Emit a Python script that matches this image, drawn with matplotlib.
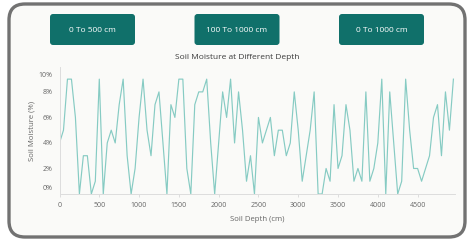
import numpy as np
import matplotlib
matplotlib.use("Agg")
import matplotlib.pyplot as plt
from matplotlib.patches import FancyBboxPatch

plt.rcParams["font.family"] = ["Open Sans", "DejaVu Sans"]

# depth every 50 cm, moisture in %
depth_cm = list(range(0, 5000, 50))
moisture = [4, 5, 9, 9, 6, 0, 3, 3, 0, 1,
            9, 0, 4, 5, 4, 7, 9, 3, 0, 2,
            6, 9, 5, 3, 7, 8, 4, 0, 7, 6,
            9, 9, 2, 0, 7, 8, 8, 9, 4, 0,
            4, 8, 6, 9, 4, 8, 5, 1, 3, 0,
            6, 4, 5, 6, 3, 5, 5, 3, 4, 8,
            5, 1, 3, 5, 8, 0, 0, 2, 1, 7,
            2, 3, 7, 5, 1, 2, 1, 8, 1, 2,
            4, 9, 0, 8, 4, 0, 1, 9, 5, 2,
            2, 1, 2, 3, 6, 7, 3, 8, 5, 9]

buttons = ["0 To 500 cm", "100 To 1000 cm", "0 To 1000 cm"]
x_ticks = [0, 500, 1000, 1500, 2000, 2500, 3000, 3500, 4000, 4500]
y_tick_pos = [0.48, 2, 4, 6, 8, 9.37]
y_tick_labels = ["0%", "2%", "4%", "6%", "8%", "10%"]

W, H = 474, 244
fig = plt.figure(figsize=(W / 100, H / 100), dpi=100, facecolor="#ffffff")

# page layer in pixel coordinates
bg = fig.add_axes([0, 0, 1, 1])
bg.set_xlim(0, W)
bg.set_ylim(H, 0)
bg.axis("off")
bg.add_patch(FancyBboxPatch((9, 4), 456, 233,
                            boxstyle="round,pad=0,rounding_size=16",
                            fc="#fafaf8", ec="#727272", lw=2.4))
for i, label in enumerate(buttons):
    x0 = 50 + i * 144.5
    bg.add_patch(FancyBboxPatch((x0, 14), 85, 31,
                                boxstyle="round,pad=0,rounding_size=3",
                                fc="#10706a", ec="none"))
    bg.text(x0 + 42.5, 30, label, color="white", fontsize=6.0,
            ha="center", va="center")

fig.text(0.5, 1 - 58 / H, "Soil Moisture at Different Depth",
         ha="center", va="center", fontsize=6.0, color="#3a3a3a")

ax = fig.add_axes([59.5 / W, 50 / H, 395.5 / W, 127 / H])
ax.patch.set_alpha(0)
ax.plot(depth_cm, moisture, color="#86cbc3", lw=0.85)
ax.set_xlim(0, 4970)
ax.set_ylim(0, 9.95)

ax.set_xticks(x_ticks)
ax.set_xticklabels([str(t) for t in x_ticks])
ax.set_yticks(y_tick_pos)
ax.set_yticklabels(y_tick_labels)
ax.tick_params(axis="x", length=2, width=0.6, color="#d8d8d8",
               labelsize=5.0, labelcolor="#666666", pad=4)
ax.tick_params(axis="y", length=0, labelsize=5.0, labelcolor="#666666",
               pad=5)
for s in ("top", "right"):
    ax.spines[s].set_visible(False)
for s in ("left", "bottom"):
    ax.spines[s].set_color("#dddddd")
    ax.spines[s].set_linewidth(0.7)

ax.set_xlabel("Soil Depth (cm)", fontsize=5.6, color="#666666", labelpad=5)
ax.set_ylabel("Soil Moisture (%)", fontsize=5.6, color="#666666", labelpad=2)

fig.savefig("out.png", dpi=100, facecolor=fig.get_facecolor())
